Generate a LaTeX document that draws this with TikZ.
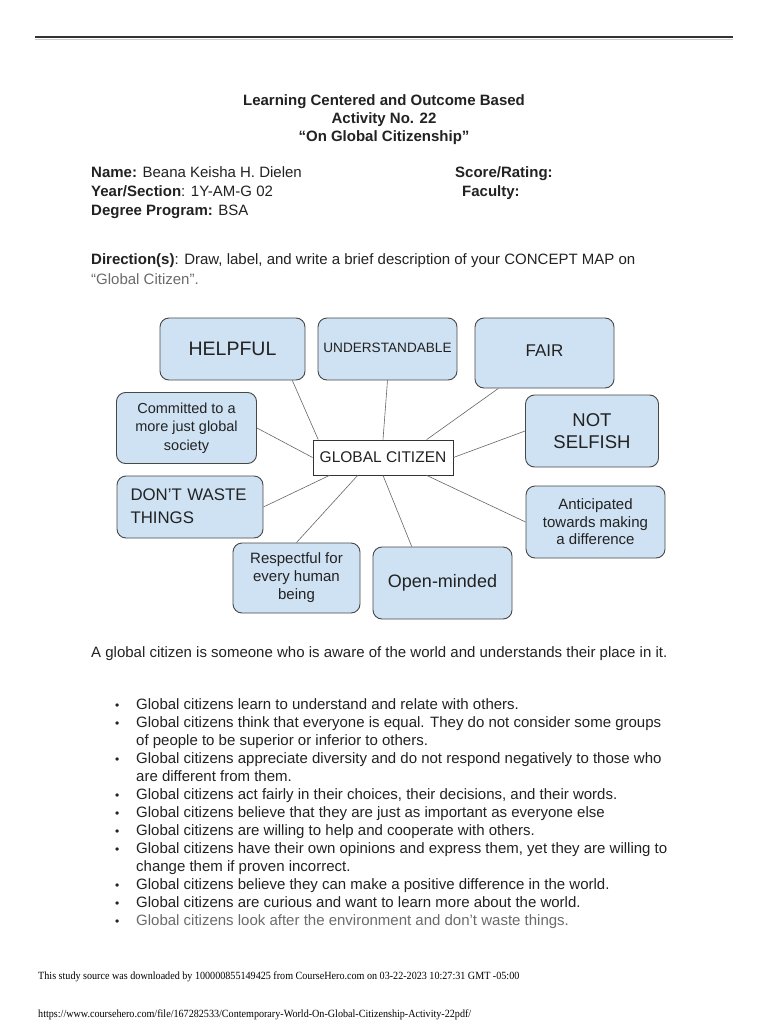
\documentclass[tikz,border=0pt]{standalone}
\usepackage{fontspec}
\setmainfont{Liberation Sans}
\newfontfamily\footfont{Liberation Serif}
\usepackage{tikz}
\usetikzlibrary{calc}
\definecolor{conceptblue}{HTML}{CFE2F3}
\definecolor{inkgray}{HTML}{222222}

\begin{document}
\begin{tikzpicture}[x=1pt,y=-1pt,
    concept/.style={
        draw=black!72,
        fill=conceptblue,
        line width=0.9pt,
        rounded corners=9pt,
        inner sep=0pt,
        align=center,
        text=inkgray
    },
    hub/.style={
        draw=black!80,
        fill=white,
        line width=0.8pt,
        inner sep=0pt,
        text=inkgray,
        font=\fontsize{15.5}{18}\selectfont
    },
    link/.style={
        draw=black!60,
        line width=0.6pt
    },
    body/.style={
        anchor=base west,
        inner sep=0pt,
        text=inkgray,
        font=\fontsize{15}{18}\selectfont
    },
    faded/.style={
        body,
        text=black!58
    },
    title/.style={
        anchor=base,
        inner sep=0pt,
        text=inkgray,
        font=\fontsize{15}{18}\selectfont\bfseries
    },
    dot/.style={
        anchor=base west,
        inner sep=0pt,
        text=inkgray,
        font=\fontsize{12}{18}\selectfont
    },
    footline/.style={
        anchor=base west,
        inner sep=0pt,
        text=black,
        font=\footfont\fontsize{11}{12}\selectfont
    }
]

\fill[white] (0,0) rectangle (768,1024);

\draw[
    black!80,
    line width=2pt
]
(35,37) -- (733,37);

\draw[
    black!20,
    line width=0.8pt
]
(35,39) -- (733,39);

\node[title] (title1) at (384,106) {Learning Centered and Outcome Based};
\node[title] (title2) at (384,124) {Activity No. 22};
\node[title] (title3) at (384,142) {“On Global Citizenship”};

\node[body] (name) at (91,178) {\textbf{Name:} Beana Keisha H. Dielen};
\node[body] (year) at (91,197) {\textbf{Year/Section}: 1Y-AM-G 02};
\node[body] (degree) at (91,215) {\textbf{Degree Program:} BSA};
\node[body] (score) at (455,178) {\textbf{Score/Rating:}};
\node[body] (faculty) at (462,197) {\textbf{Faculty:}};

\node[body] (direction) at (91,264)
{\textbf{Direction(s)}: Draw, label, and write a brief description of your CONCEPT MAP on};
\node[faded] (topic) at (91,284) {“Global Citizen”.};

\node[concept,
    minimum width=145pt,
    minimum height=62pt,
    font=\fontsize{19.5}{22}\selectfont
] (helpful) at (232.5,349) {HELPFUL};

\node[concept,
    minimum width=139pt,
    minimum height=62pt,
    font=\fontsize{13.6}{16}\selectfont
] (underst) at (387.5,349) {\raisebox{2pt}{UNDERSTANDABLE}};

\node[concept,
    minimum width=139pt,
    minimum height=70pt,
    font=\fontsize{17}{20}\selectfont
] (fair) at (544.5,353) {\raisebox{4pt}{FAIR}};

\node[concept,
    minimum width=140pt,
    minimum height=71pt,
    font=\fontsize{14.5}{18.5}\selectfont
] (committed) at (186.5,428) {Committed to a\\more just global\\society};

\node[concept,
    minimum width=133pt,
    minimum height=72pt,
    font=\fontsize{18.5}{22}\selectfont
] (notselfish) at (592,431) {NOT\\SELFISH};

\node[hub,
    minimum width=140pt,
    minimum height=35pt
] (gc) at (383,457.5) {GLOBAL CITIZEN};

\node[concept,
    text width=119pt,
    inner xsep=13.5pt,
    minimum height=62pt,
    align=left,
    font=\fontsize{16.8}{22}\selectfont
] (dontwaste) at (190,507) {\raisebox{2pt}{\mbox{DON'T WASTE}}\\\raisebox{1pt}{THINGS}};

\node[concept,
    minimum width=139pt,
    minimum height=72pt,
    font=\fontsize{15}{17.5}\selectfont
] (anticip) at (595.5,522) {Anticipated\\towards making\\a difference};

\node[concept,
    minimum width=127pt,
    minimum height=70pt,
    font=\fontsize{15}{18}\selectfont
] (respect) at (296.5,578) {Respectful for\\every human\\being};

\node[concept,
    minimum width=139pt,
    minimum height=72pt,
    font=\fontsize{18}{22}\selectfont
] (openm) at (442.5,583) {\raisebox{3pt}{Open-minded}};

\draw[link] ($(helpful.south west)!0.91!(helpful.south east)$) -- ($(gc.north west)!0.04!(gc.north east)$);
\draw[link] (underst.south) -- (gc.north);
\draw[link] ($(fair.south west)!0.17!(fair.south east)$) -- ($(gc.north west)!0.81!(gc.north east)$);
\draw[link] (notselfish.west) -- (gc.east);
\draw[link] (committed.east) -- (gc.west);
\draw[link] (dontwaste.east) -- ($(gc.south west)!0.12!(gc.south east)$);
\draw[link] (respect.north) -- ($(gc.south west)!0.32!(gc.south east)$);
\draw[link] ($(openm.north west)!0.28!(openm.north east)$) -- (gc.south);
\draw[link] (anticip.west) -- ($(gc.south west)!0.81!(gc.south east)$);

\node[body] (intro) at (91,657)
{A global citizen is someone who is aware of the world and understands their place in it.};

\foreach \row/\txt in {
    0/{Global citizens learn to understand and relate with others.},
    1/{Global citizens think that everyone is equal. They do not consider some groups},
    3/{Global citizens appreciate diversity and do not respond negatively to those who},
    5/{Global citizens act fairly in their choices, their decisions, and their words.},
    6/{Global citizens believe that they are just as important as everyone else},
    7/{Global citizens are willing to help and cooperate with others.},
    8/{Global citizens have their own opinions and express them, yet they are willing to},
    10/{Global citizens believe they can make a positive difference in the world.},
    11/{Global citizens are curious and want to learn more about the world.}
}{
    \node[dot] (dot\row) at (115,709+18*\row) {•};
    \node[body] (item\row) at (136,709+18*\row) {\txt};
}

\node[body] (item2) at (136,745) {of people to be superior or inferior to others.};
\node[body] (item4) at (136,781) {are different from them.};
\node[body] (item9) at (136,871) {change them if proven incorrect.};

\node[dot] (dot12) at (115,925) {•};
\node[faded] (item12) at (136,925)
{Global citizens look after the environment and don't waste things.};

\node[footline] (source) at (38,979)
{\scalebox{0.92}[1]{This study source was downloaded by 100000855149425 from CourseHero.com on 03-22-2023 10:27:31 GMT -05:00}};
\node[footline] (link) at (38,1017)
{\scalebox{0.92}[1]{https://www.coursehero.com/file/167282533/Contemporary-World-On-Global-Citizenship-Activity-22pdf/}};

\path[use as bounding box] (0,0) rectangle (768,1024);
\end{tikzpicture}
\end{document}
